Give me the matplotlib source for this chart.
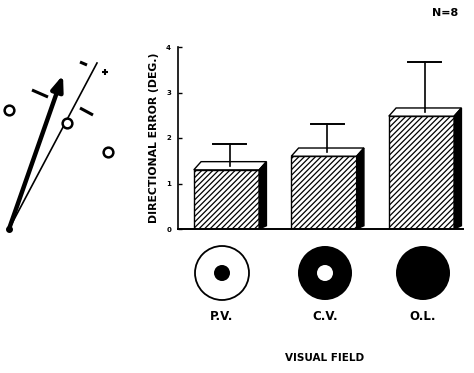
import matplotlib.pyplot as plt
from matplotlib.patches import Polygon, Circle
import numpy as np

# bar data
fields = ['P.V.', 'C.V.', 'O.L.']
error_mean = [1.30, 1.60, 2.48]
error_sd = [0.57, 0.71, 1.19]
yticks = [0, 1, 2, 3, 4]

# schematic on the left (figure pixel coords, y down)
origin = (9, 229)
thick_tip = (63, 75)
thin_end = (97, 63)
open_circles_x = [9, 67, 108]
open_circles_y = [110, 123, 152]
dash_x = [(32, 48), (80, 93), (80, 87)]
dash_y = [(90, 97), (108, 115), (62, 65)]
plus_pos = (105, 72)

W, H = 474, 373
plt.rcParams['font.family'] = 'DejaVu Sans'
plt.rcParams['hatch.linewidth'] = 0.9
fig = plt.figure(figsize=(W / 100, H / 100), dpi=100)

# main bar axes
x0, x1, ytop, ybot = 178, 463, 47, 229
ax = fig.add_axes([x0 / W, 1 - ybot / H, (x1 - x0) / W, (ybot - ytop) / H])
pos = np.arange(len(fields))
width = 0.67
ax.bar(pos, error_mean, width, color='white', edgecolor='black',
       hatch='//////', linewidth=1.0, zorder=2)
dx, dy = 0.075, 0.18
for x, h, sd in zip(pos, error_mean, error_sd):
    l, r = x - width / 2, x + width / 2
    ax.add_patch(Polygon([(l, h), (r, h), (r + dx, h + dy), (l + dx, h + dy)],
                         closed=True, facecolor='white', edgecolor='black',
                         linewidth=1.0, zorder=3))
    ax.add_patch(Polygon([(r, 0), (r + dx, dy * 0.4), (r + dx, h + dy), (r, h)],
                         closed=True, facecolor='black', edgecolor='black',
                         linewidth=1.0, zorder=3))
    xe = x + 0.035
    ax.plot([xe, xe], [h + dy * 0.5, h + sd], color='black', lw=1.2, zorder=4)
    ax.plot([xe - 0.17, xe + 0.17], [h + sd, h + sd], color='black', lw=1.4,
            zorder=4)

ax.set_xlim(-0.497, 2.426)
ax.set_ylim(0, 4)
ax.set_yticks(yticks)
ax.set_yticklabels([str(t) for t in yticks], fontsize=5, fontweight='bold')
ax.tick_params(axis='y', direction='in', length=3, width=1, pad=5)
ax.set_xticks([])
for s in ['top', 'right']:
    ax.spines[s].set_visible(False)
ax.spines['left'].set_linewidth(1.2)
ax.spines['bottom'].set_linewidth(1.4)
ax.set_ylabel('DIRECTIONAL ERROR (DEG.)', fontsize=7.8, fontweight='bold',
              labelpad=5)

# overlay in pixel coordinates
ov = fig.add_axes([0, 0, 1, 1])
ov.set_xlim(0, W)
ov.set_ylim(H, 0)
ov.axis('off')

# visual field symbols
cx = [222, 325, 423]
cy = 273
R, r = 27, 8
ov.add_patch(Circle((cx[0], cy), R, facecolor='white', edgecolor='black', lw=1.3))
ov.add_patch(Circle((cx[0], cy), r, facecolor='black'))
ov.add_patch(Circle((cx[1], cy), R, facecolor='black'))
ov.add_patch(Circle((cx[1], cy), r, facecolor='white'))
ov.add_patch(Circle((cx[2], cy), R, facecolor='black'))
for x, name in zip(cx, fields):
    ov.text(x, 317, name, fontsize=8.5, fontweight='bold', ha='center', va='center')
ov.text(325, 358, 'VISUAL FIELD', fontsize=7.5, fontweight='bold',
        ha='center', va='center')
ov.text(445, 13, 'N=8', fontsize=8, fontweight='bold', ha='center', va='center')

# schematic
ov.plot([origin[0], thin_end[0]], [origin[1], thin_end[1]], color='black', lw=1.2)
ov.annotate('', xy=thick_tip, xytext=origin,
            arrowprops=dict(arrowstyle='-|>,head_length=0.9,head_width=0.35',
                            lw=3.2, color='black', shrinkA=0, shrinkB=0))
ov.plot(*origin, 'o', color='black', ms=4)
ov.plot(open_circles_x, open_circles_y, 'o', mfc='white', mec='black', ms=7, mew=1.8)
for xs, ys in zip(dash_x, dash_y):
    ov.plot(xs, ys, color='black', lw=2.2, solid_capstyle='butt')
ov.plot(*plus_pos, marker='+', color='black', ms=5, mew=1.5)

fig.savefig('out.png', dpi=100)
